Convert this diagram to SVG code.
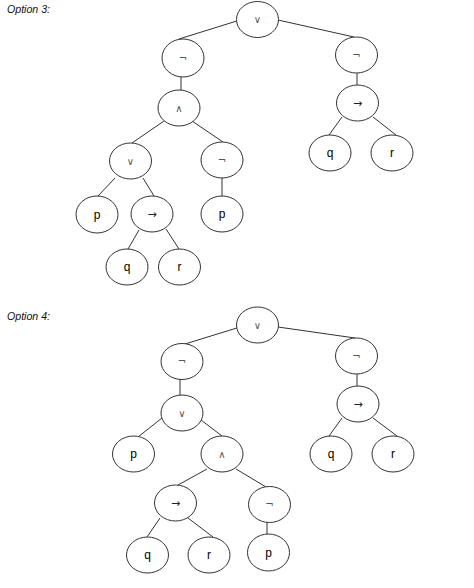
<svg xmlns="http://www.w3.org/2000/svg" width="474" height="588" viewBox="0 0 474 588">
<style>
.n ellipse{fill:#fff;stroke:#333;stroke-width:1}
.n text{font-family:"Liberation Sans","DejaVu Sans",sans-serif;font-size:12px;text-anchor:middle;fill:#000}
.n text.s{fill:#555;font-family:"DejaVu Sans",sans-serif;font-size:10px}
.n text.a{fill:#222;font-family:"DejaVu Sans",sans-serif;font-size:11px}
.c line{stroke:#333;stroke-width:1}
.t{font-family:"Liberation Sans",Arial,sans-serif;font-size:10.6px;font-style:italic;fill:#111}
</style>
<rect width="474" height="588" fill="#fff"/>
<text class="t" x="7" y="12.5">Option 3:</text>
<text class="t" x="7" y="319.5">Option 4:</text>
<g id="connectors" class="c">
<line x1="240" y1="20" x2="179" y2="39"/>
<line x1="278" y1="20" x2="354" y2="37"/>
<line x1="181" y1="77" x2="181" y2="90"/>
<line x1="164" y1="121" x2="132" y2="143"/>
<line x1="192" y1="121" x2="223" y2="142"/>
<line x1="115" y1="178" x2="98" y2="196"/>
<line x1="143" y1="178" x2="154" y2="196"/>
<line x1="139" y1="230" x2="128" y2="249"/>
<line x1="166" y1="229" x2="179" y2="249"/>
<line x1="222" y1="178" x2="222" y2="196"/>
<line x1="357" y1="73" x2="357" y2="85"/>
<line x1="342" y1="117" x2="329" y2="135"/>
<line x1="373" y1="117" x2="396" y2="135"/>
<line x1="240" y1="327" x2="185" y2="344"/>
<line x1="278" y1="327" x2="355" y2="338"/>
<line x1="180" y1="379" x2="180" y2="395"/>
<line x1="162" y1="418" x2="138" y2="437"/>
<line x1="201" y1="420" x2="222" y2="436"/>
<line x1="207" y1="469" x2="178" y2="485"/>
<line x1="236" y1="469" x2="266" y2="487"/>
<line x1="160" y1="518" x2="147" y2="537"/>
<line x1="188" y1="518" x2="213" y2="537"/>
<line x1="267" y1="522" x2="267" y2="534"/>
<line x1="357" y1="374" x2="357" y2="386"/>
<line x1="342" y1="418" x2="329" y2="436"/>
<line x1="373" y1="418" x2="397" y2="436"/>
</g>
<g id="o3-or" class="n"><ellipse cx="257.5" cy="19.5" rx="21" ry="18"/><text class="s" x="257.5" y="23">∨</text></g>
<g id="o3-not1" class="n"><ellipse cx="183" cy="58" rx="21" ry="19"/><text class="s" x="183" y="62">¬</text></g>
<g id="o3-and" class="n"><ellipse cx="179" cy="108" rx="21" ry="18"/><text class="s" x="179" y="112">∧</text></g>
<g id="o3-or2" class="n"><ellipse cx="130.5" cy="161" rx="21" ry="18"/><text class="s" x="130.5" y="165">∨</text></g>
<g id="o3-not2" class="n"><ellipse cx="222" cy="160" rx="21" ry="18"/><text class="s" x="222" y="164">¬</text></g>
<g id="o3-p1" class="n"><ellipse cx="97" cy="214.5" rx="21" ry="18.5"/><text x="97" y="219">p</text></g>
<g id="o3-imp1" class="n"><ellipse cx="152" cy="214" rx="21" ry="18"/><text class="a" x="152" y="218">→</text></g>
<g id="o3-p2" class="n"><ellipse cx="222" cy="214" rx="21" ry="18"/><text x="222" y="218">p</text></g>
<g id="o3-q1" class="n"><ellipse cx="127" cy="267" rx="21" ry="18"/><text x="127" y="271">q</text></g>
<g id="o3-r1" class="n"><ellipse cx="179.5" cy="267" rx="21" ry="18"/><text x="179.5" y="271">r</text></g>
<g id="o3-not3" class="n"><ellipse cx="356.5" cy="55" rx="21" ry="18"/><text class="s" x="356.5" y="59">¬</text></g>
<g id="o3-imp2" class="n"><ellipse cx="357.5" cy="103" rx="21" ry="18"/><text class="a" x="357.5" y="107">→</text></g>
<g id="o3-q2" class="n"><ellipse cx="330" cy="153" rx="21" ry="18"/><text x="330" y="157">q</text></g>
<g id="o3-r2" class="n"><ellipse cx="392" cy="153" rx="21" ry="18"/><text x="392" y="157">r</text></g>
<g id="o4-or" class="n"><ellipse cx="257.5" cy="325" rx="21" ry="18"/><text class="s" x="257.5" y="329">∨</text></g>
<g id="o4-not1" class="n"><ellipse cx="182" cy="361.5" rx="21" ry="18"/><text class="s" x="182" y="365">¬</text></g>
<g id="o4-or2" class="n"><ellipse cx="182" cy="413" rx="21" ry="18"/><text class="s" x="182" y="417">∨</text></g>
<g id="o4-p1" class="n"><ellipse cx="133.5" cy="454" rx="21" ry="18"/><text x="133.5" y="458">p</text></g>
<g id="o4-and" class="n"><ellipse cx="222" cy="454" rx="21" ry="18"/><text class="s" x="222" y="458">∧</text></g>
<g id="o4-imp1" class="n"><ellipse cx="175.5" cy="503" rx="21" ry="18"/><text class="a" x="175.5" y="507">→</text></g>
<g id="o4-not2" class="n"><ellipse cx="269.5" cy="504.5" rx="21" ry="18"/><text class="s" x="269.5" y="508">¬</text></g>
<g id="o4-q1" class="n"><ellipse cx="147.5" cy="555" rx="21" ry="18"/><text x="147.5" y="559">q</text></g>
<g id="o4-r1" class="n"><ellipse cx="209" cy="555" rx="21" ry="18"/><text x="209" y="559">r</text></g>
<g id="o4-p2" class="n"><ellipse cx="268.5" cy="552.5" rx="21" ry="18.5"/><text x="268.5" y="557">p</text></g>
<g id="o4-not3" class="n"><ellipse cx="356.5" cy="356" rx="21" ry="18"/><text class="s" x="356.5" y="360">¬</text></g>
<g id="o4-imp2" class="n"><ellipse cx="358" cy="404" rx="21" ry="18"/><text class="a" x="358" y="408">→</text></g>
<g id="o4-q2" class="n"><ellipse cx="331" cy="454" rx="21" ry="18"/><text x="331" y="458">q</text></g>
<g id="o4-r2" class="n"><ellipse cx="393" cy="454" rx="21" ry="18"/><text x="393" y="458">r</text></g>
</svg>
